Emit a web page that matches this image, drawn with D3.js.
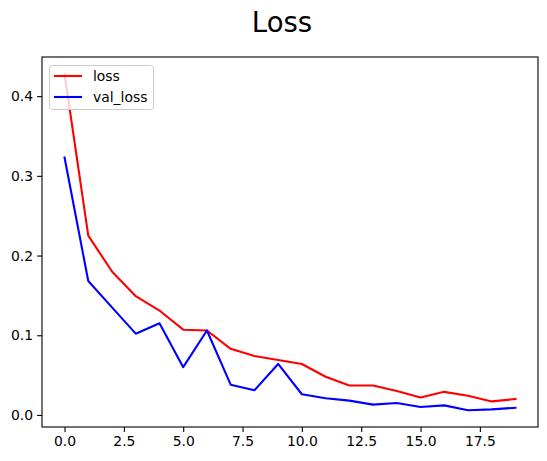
<!DOCTYPE html>
<html>
<head>
<meta charset="utf-8">
<script src="https://cdn.jsdelivr.net/npm/d3@7"></script>
<style>
  body { margin: 0; background: #fff; }
  text { font-family: "DejaVu Sans", sans-serif; fill: #000; }
</style>
</head>
<body>
<svg id="chart" width="547" height="461"></svg>
<script>
// epochs and the two loss histories
const epochs = d3.range(20);
const loss = [0.428, 0.225, 0.180, 0.149, 0.131, 0.107, 0.106, 0.083, 0.074, 0.069,
              0.064, 0.048, 0.037, 0.037, 0.030, 0.022, 0.029, 0.024, 0.017, 0.020];
const valLoss = [0.323, 0.168, 0.135, 0.102, 0.115, 0.060, 0.106, 0.038, 0.031, 0.064,
                 0.026, 0.021, 0.018, 0.013, 0.015, 0.010, 0.012, 0.006, 0.007, 0.009];
const xTicks = [0, 2.5, 5, 7.5, 10, 12.5, 15, 17.5];
const yTicks = [0, 0.1, 0.2, 0.3, 0.4];

const svg = d3.select("#chart");
const plotLeft = 42, plotRight = 538, plotTop = 57, plotBottom = 427;

// matplotlib style 5% margins
const xMin = d3.min(epochs), xMax = d3.max(epochs);
const xPad = (xMax - xMin) * 0.05;
const allY = loss.concat(valLoss);
const yMin = d3.min(allY), yMax = d3.max(allY);
const yPad = (yMax - yMin) * 0.05;

const x = d3.scaleLinear().domain([xMin - xPad, xMax + xPad]).range([plotLeft, plotRight]);
const y = d3.scaleLinear().domain([yMin - yPad, yMax + yPad]).range([plotBottom, plotTop]);

// title
svg.append("text")
   .attr("x", 282).attr("y", 32)
   .attr("text-anchor", "middle")
   .attr("font-size", "27.5px")
   .text("Loss");

// axes
const xAxis = d3.axisBottom(x).tickValues(xTicks).tickSize(4.9).tickPadding(4)
                .tickFormat(d3.format(".1f"));
const yAxis = d3.axisLeft(y).tickValues(yTicks).tickSize(4.9).tickPadding(4)
                .tickFormat(d3.format(".1f"));

const gx = svg.append("g").attr("transform", `translate(0,${plotBottom})`).call(xAxis);
const gy = svg.append("g").attr("transform", `translate(${plotLeft},0)`).call(yAxis);
[gx, gy].forEach(g => {
    g.select(".domain").remove();
    g.selectAll(".tick line").attr("stroke", "#000").attr("stroke-width", 1.1);
    g.selectAll(".tick text").attr("font-size", "13.9px")
     .attr("font-family", "DejaVu Sans, sans-serif").attr("fill", "#000");
});

// lines
const line = d3.line().x((d, i) => x(epochs[i])).y(d => y(d));
svg.append("path").datum(loss)
   .attr("d", line).attr("fill", "none")
   .attr("stroke", "red").attr("stroke-width", 2.1)
   .attr("stroke-linejoin", "round").attr("stroke-linecap", "square");
svg.append("path").datum(valLoss)
   .attr("d", line).attr("fill", "none")
   .attr("stroke", "blue").attr("stroke-width", 2.1)
   .attr("stroke-linejoin", "round").attr("stroke-linecap", "square");

// frame
svg.append("rect")
   .attr("x", plotLeft).attr("y", plotTop)
   .attr("width", plotRight - plotLeft).attr("height", plotBottom - plotTop)
   .attr("fill", "none").attr("stroke", "#000").attr("stroke-width", 1.1);

// legend
const legend = svg.append("g");
legend.append("rect")
   .attr("x", 49.5).attr("y", 65.5).attr("width", 104).attr("height", 44)
   .attr("rx", 3).attr("fill", "#fff").attr("fill-opacity", 0.8)
   .attr("stroke", "#ccc").attr("stroke-width", 1);
const items = [{ name: "loss", color: "red" }, { name: "val_loss", color: "blue" }];
items.forEach((d, i) => {
    const ly = 76 + i * 21;
    legend.append("line")
       .attr("x1", 54).attr("x2", 82).attr("y1", ly).attr("y2", ly)
       .attr("stroke", d.color).attr("stroke-width", 2.1);
    legend.append("text")
       .attr("x", 93).attr("y", ly + 5)
       .attr("font-size", "13.9px")
       .text(d.name);
});
</script>
</body>
</html>
